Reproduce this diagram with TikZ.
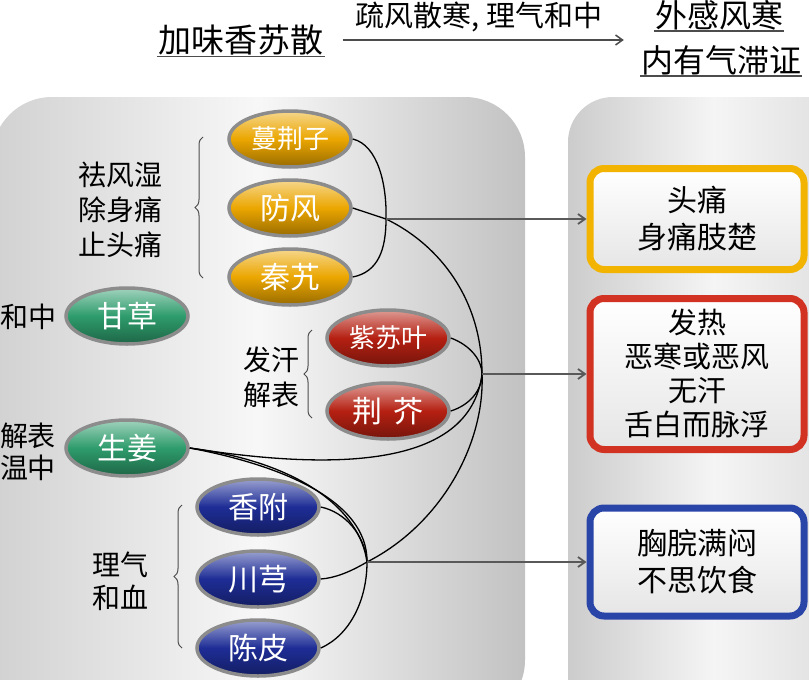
\documentclass[tikz,border=0pt]{standalone}
\usepackage{fontspec}
\setmainfont{Noto Sans CJK SC}
\usepackage{tikz}
\usetikzlibrary{shapes.geometric,arrows.meta,decorations.pathreplacing}

\definecolor{hyellow}{HTML}{EBA600}
\definecolor{hred}{HTML}{B52012}
\definecolor{hgreen}{HTML}{2E9C6C}
\definecolor{hblue}{HTML}{1E2D96}
\definecolor{byellow}{HTML}{F2B400}
\definecolor{bred}{HTML}{D23222}
\definecolor{bblue}{HTML}{2A45A8}

\tikzset{
  herb/.style={ellipse, draw=black!45, line width=3.5pt, inner sep=0pt,
    minimum width=122pt, minimum height=56pt,
    top color=#1!45!white, bottom color=#1!65!black, middle color=#1,
    text=white, font=\fontsize{30pt}{36pt}\selectfont},
  sym/.style={draw=#1, line width=7pt, rounded corners=14pt,
    top color=white, bottom color=black!10, minimum width=214pt, align=center},
  lbl/.style={align=center, inner sep=0pt},
  link/.style={line width=1.3pt},
  arr/.style={line width=1.8pt, black!65, -{Straight Barb[length=7pt,width=10pt]}},
  brc/.style={decorate, decoration={brace, amplitude=8pt}, line width=1pt, black!70},
  uline/.style={line width=1.5pt, black!70}
}

\begin{document}
\begin{tikzpicture}[x=1pt, y=-1pt]
    \path[use as bounding box, clip] (0,0) rectangle (809,680);

    % panels
    \path[rounded corners=60pt, left color=black!18, right color=black!24, middle color=black!3]
        (-8,97) rectangle (525,720);
    \path[rounded corners=45pt, left color=black!20, right color=black!14, middle color=black!4]
        (568,97) rectangle (860,740);

    % title
    \node[inner sep=1pt, font=\fontsize{33pt}{36pt}\selectfont] (fang) at (241,40) {加味香苏散};
    \draw[uline] (fang.south west) -- (fang.south east);
    \node[inner sep=1pt, font=\fontsize{29pt}{32pt}\selectfont] (zhifa) at (479,17) {疏风散寒, 理气和中};
    \node[inner sep=1pt, font=\fontsize{32pt}{36pt}\selectfont] (res1) at (719,15) {外感风寒};
    \draw[uline] (res1.south west) -- (res1.south east);
    \node[inner sep=1pt, font=\fontsize{32pt}{36pt}\selectfont] (res2) at (721,60) {内有气滞证};
    \draw[uline] (res2.south west) -- (res2.south east);
    \draw[line width=1.5pt, black!70, -{Straight Barb[length=7pt,width=10pt]}]
        ([xshift=18pt]fang.east) -- ([xshift=-16pt]fang.east -| res2.west);

    % herbs
    \node[herb=hyellow, font=\fontsize{26pt}{30pt}\selectfont] (manjing) at (290,139) {蔓荆子};
    \node[herb=hyellow] (fangfeng) at (290,208) {防风};
    \node[herb=hyellow] (qinjiao) at (290,277) {秦艽};
    \node[herb=hgreen] (gancao) at (127,316) {甘草};
    \node[herb=hred, font=\fontsize{26pt}{30pt}\selectfont] (zisu) at (388,338) {紫苏叶};
    \node[herb=hred] (jingjie) at (388,411) {荆\hspace{0.4em}芥};
    \node[herb=hgreen] (shengjiang) at (127,448) {生姜};
    \node[herb=hblue] (xiangfu) at (258,507) {香附};
    \node[herb=hblue] (chuanxiong) at (258,579) {川芎};
    \node[herb=hblue] (chenpi) at (258,648) {陈皮};

    % group labels
    \node[lbl, font=\fontsize{28pt}{35pt}\selectfont] (qufeng) at (120,210) {祛风湿\\除身痛\\止头痛};
    \draw[brc] (203,278) -- (203,137);
    \node[lbl, font=\fontsize{28pt}{35pt}\selectfont] (hezhong) at (29,317) {和中};
    \node[lbl, font=\fontsize{28pt}{35pt}\selectfont] (fahan) at (271,377) {发汗\\解表};
    \draw[brc] (312,418) -- (312,330);
    \node[lbl, font=\fontsize{28pt}{32pt}\selectfont] (jiebiao) at (28,452) {解表\\温中};
    \node[lbl, font=\fontsize{28pt}{33pt}\selectfont] (liqi) at (120,581) {理气\\和血};
    \draw[brc] (182,648) -- (182,505);

    % symptoms
    \node[sym=byellow, minimum height=101pt, font=\fontsize{30pt}{37pt}\selectfont] (tong) at (697,219) {头痛\\身痛肢楚};
    \node[sym=bred, minimum height=151pt, font=\fontsize{29pt}{34pt}\selectfont] (re) at (697,374) {发热\\恶寒或恶风\\无汗\\舌白而脉浮};
    \node[sym=bblue, minimum height=108pt, font=\fontsize{30pt}{37pt}\selectfont] (men) at (697,562) {胸脘满闷\\不思饮食};

    % junctions
    \coordinate (jy) at (386,219);
    \coordinate (jr) at (482,374);
    \coordinate (jb) at (367,562);

    \draw[link] (manjing.east) .. controls (378,145) and (387,185) .. (jy)
        .. controls (386,250) and (378,272) .. (qinjiao.east);
    \draw[link] (fangfeng.east) -- (jy) .. controls (440,245) and (482,300) .. (jr)
        .. controls (485,445) and (440,525) .. (jb) .. controls (350,572) and (335,578) .. (chuanxiong.east);
    \draw[link] (zisu.east) .. controls (470,345) and (482,360) .. (jr)
        .. controls (482,390) and (470,405) .. (jingjie.east);
    \draw[link] (shengjiang.east) .. controls (330,470) and (470,470) .. (jr);
    \draw[link] (shengjiang.east) .. controls (280,465) and (368,500) .. (jb);
    \draw[link] (shengjiang.east) .. controls (300,462) and (360,510) .. (jb);
    \draw[link] (xiangfu.east) .. controls (345,512) and (365,535) .. (jb)
        .. controls (367,600) and (350,635) .. (chenpi.east);

    \draw[arr] (jy) -- (tong.west);
    \draw[arr] (jr) -- (re.west);
    \draw[arr] (jb) -- (men.west);

\end{tikzpicture}
\end{document}
